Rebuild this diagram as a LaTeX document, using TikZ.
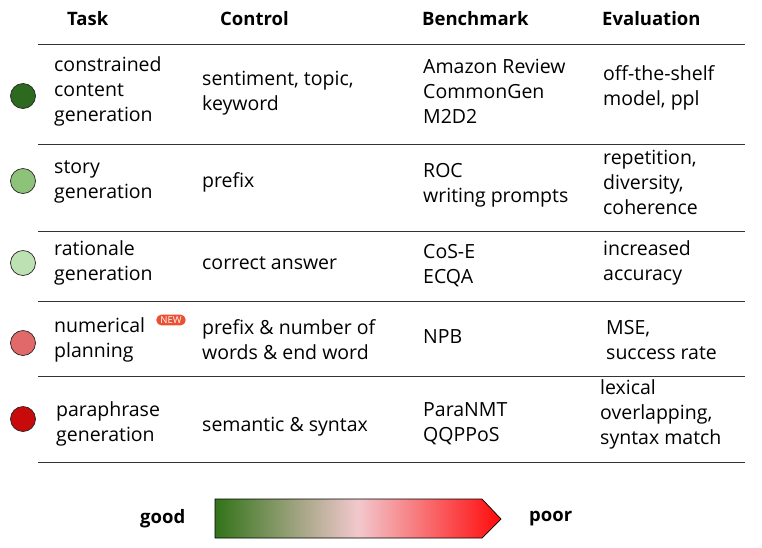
\documentclass[tikz,border=0pt]{standalone}
\usepackage{fontspec}
\setmainfont{Open Sans}
\begin{document}
\begin{tikzpicture}[x=1pt,y=-1pt,
  txt/.style={anchor=west,align=left,inner sep=0pt,font=\fontsize{19.5}{25}\selectfont},
  hdr/.style={anchor=west,inner sep=0pt,font=\fontsize{18.5}{22}\selectfont\bfseries},
  rule/.style={line width=0.9pt,black!80},
  dot/.style={circle,draw=black!85,line width=0.7pt,minimum size=25pt,inner sep=0pt}]
\useasboundingbox (0,0) rectangle (762,547);
\definecolor{c1}{RGB}{45,105,30}
\definecolor{c2}{RGB}{140,195,120}
\definecolor{c3}{RGB}{190,225,180}
\definecolor{c4}{RGB}{225,105,105}
\definecolor{c5}{RGB}{200,10,10}
\definecolor{gG}{RGB}{50,115,25}
\definecolor{gP}{RGB}{242,200,205}
\definecolor{gR}{RGB}{255,10,10}
\definecolor{badge}{RGB}{235,80,50}
\node[hdr] (h1) at (67,19) {Task};
\node[hdr] (h2) at (220,19) {Control};
\node[hdr] (h3) at (422,19) {Benchmark};
\node[hdr] (h4) at (602,19) {Evaluation};
\foreach \y/\n in {44/a,144/b,231/c,301/d,376/e,462/f}
  \draw[rule] (38,\y) -- (745,\y);
% rows
\node[dot,fill=c1] (d1) at (23,96) {};
\node[txt] (t1) at (54,91) {constrained\\content\\generation};
\node[txt] (k1) at (202,93) {sentiment, topic,\\keyword};
\node[txt] (b1) at (423,91) {Amazon Review\\CommonGen\\M2D2};
\node[txt] (e1) at (603,88) {off-the-shelf\\model, ppl};
\node[dot,fill=c2] (d2) at (23,181) {};
\node[txt] (t2) at (54,182) {story\\generation};
\node[txt] (k2) at (202,182) {prefix};
\node[txt] (b2) at (423,185) {ROC\\writing prompts};
\node[txt] (e2) at (603,182) {repetition,\\diversity,\\coherence};
\node[dot,fill=c3] (d3) at (23,263) {};
\node[txt] (t3) at (54,263) {rationale\\generation};
\node[txt] (k3) at (202,263) {correct answer};
\node[txt] (b3) at (423,266) {CoS-E\\ECQA};
\node[txt] (e3) at (603,263) {increased\\accuracy};
\node[dot,fill=c4] (d4) at (23,343) {};
\node[txt] (t4) at (54,340) {numerical\\planning};
\node[fill=badge,rounded corners=5pt,inner xsep=4pt,inner ysep=2pt,text=white,font=\fontsize{9.5}{10}\selectfont] (nw) at (171,320) {NEW};
\node[txt] (k4) at (202,340) {prefix \& number of\\words \& end word};
\node[txt] (b4) at (423,337) {NPB};
\node[txt] (e4) at (606,340) {MSE,\\success rate};
\node[dot,fill=c5] (d5) at (23,419) {};
\node[txt] (t5) at (56,424) {paraphrase\\generation};
\node[txt] (k5) at (202,427) {semantic \& syntax};
\node[txt] (b5) at (423,424) {ParaNMT\\QQPPoS};
\node[txt] (e5) at (600,414) {lexical\\overlapping,\\syntax match};
% arrow
\node[hdr] (good) at (140,519) {good};
\node[hdr] (poor) at (529,519) {poor};
\shade[left color=gG,right color=gR,middle color=gP] (215,499) -- (482,499) -- (501,519) -- (482,538) -- (215,538) -- cycle;
\draw[black,line width=0.7pt] (215,499) -- (482,499) -- (501,519) -- (482,538) -- (215,538) -- cycle;
\end{tikzpicture}
\end{document}
